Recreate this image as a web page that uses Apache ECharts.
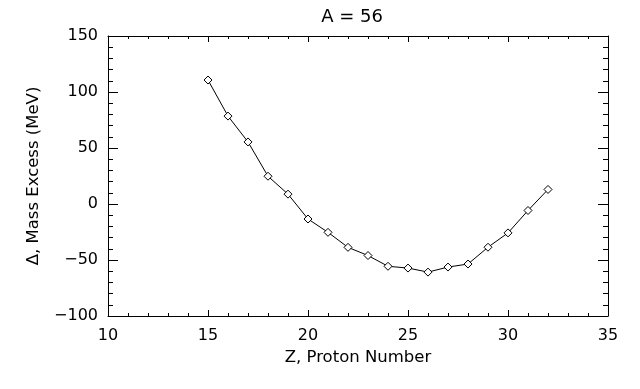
<!DOCTYPE html>
<html>
<head>
<meta charset="utf-8">
<script src="https://cdn.jsdelivr.net/npm/echarts@6/dist/echarts.min.js"></script>
<style>html,body{margin:0;padding:0;background:#fff}#c{width:640px;height:389px}</style>
</head>
<body>
<div id="c"></div>
<script>
const protonNumbers = [15,16,17,18,19,20,21,22,23,24,25,26,27,28,29,30,31,32];
const massExcess = [110.7,78.5,55.4,24.8,8.8,-13.4,-25.3,-38.7,-46.0,-55.6,-57.2,-60.8,-56.3,-53.6,-38.6,-25.8,-5.8,13.0];
const xTicks = {min:10, max:35, interval:5};
const yTicks = {min:-100, max:150, interval:50};

const FONT = 'DejaVu Sans';
const txt = {fontFamily: FONT, fontSize: 16, color: '#000', fontWeight: 'normal'};
const line = {lineStyle:{color:'#000', width:1}};

const chart = echarts.init(document.getElementById('c'), null, {renderer:'canvas'});
const data = protonNumbers.map((z,i)=>[z, massExcess[i]]);

function xa(pos, show){
  return {
    type:'value', position:pos, min:xTicks.min, max:xTicks.max, interval:xTicks.interval,
    axisLine:{show:true, onZero:false, ...line},
    axisTick:{show:true, inside:true, length:6, ...line},
    minorTick:{show:true, splitNumber:5, length:3, lineStyle:{color:'#000',width:1}},
    splitLine:{show:false},
    axisLabel:{show:show, margin:12, ...txt},
    name: show ? 'Z, Proton Number' : '',
    nameLocation:'middle', nameGap:32, nameTextStyle:{...txt, fontSize:16.5}
  };
}
function ya(pos, show){
  return {
    type:'value', position:pos, min:yTicks.min, max:yTicks.max, interval:yTicks.interval,
    axisLine:{show:true, onZero:false, ...line},
    axisTick:{show:true, inside:true, length:10, ...line},
    minorTick:{show:true, splitNumber:5, length:5, lineStyle:{color:'#000',width:1}},
    splitLine:{show:false},
    axisLabel:{show:show, margin:10, ...txt, formatter: v => String(v).replace('-', '\u2212')},
    name: show ? 'Δ, Mass Excess (MeV)' : '',
    nameLocation:'middle', nameGap:66, nameTextStyle:{...txt, fontSize:16.5}
  };
}

chart.setOption({
  animation:false,
  backgroundColor:'#fff',
  title:{text:'A = 56', left:347, top:3, textAlign:'center', textStyle:{...txt, fontSize:18}},
  grid:{left:108, right:32, top:36, bottom:73},
  xAxis:[xa('bottom', true), xa('top', false)],
  yAxis:[ya('left', true), ya('right', false)],
  series:[{
    type:'line', data:data, xAxisIndex:0, yAxisIndex:0,
    symbol:'diamond', symbolSize:8, showAllSymbol:true,
    lineStyle:{color:'#000', width:1},
    itemStyle:{color:'#fff', borderColor:'#000', borderWidth:1}
  }]
});
</script>
</body>
</html>
